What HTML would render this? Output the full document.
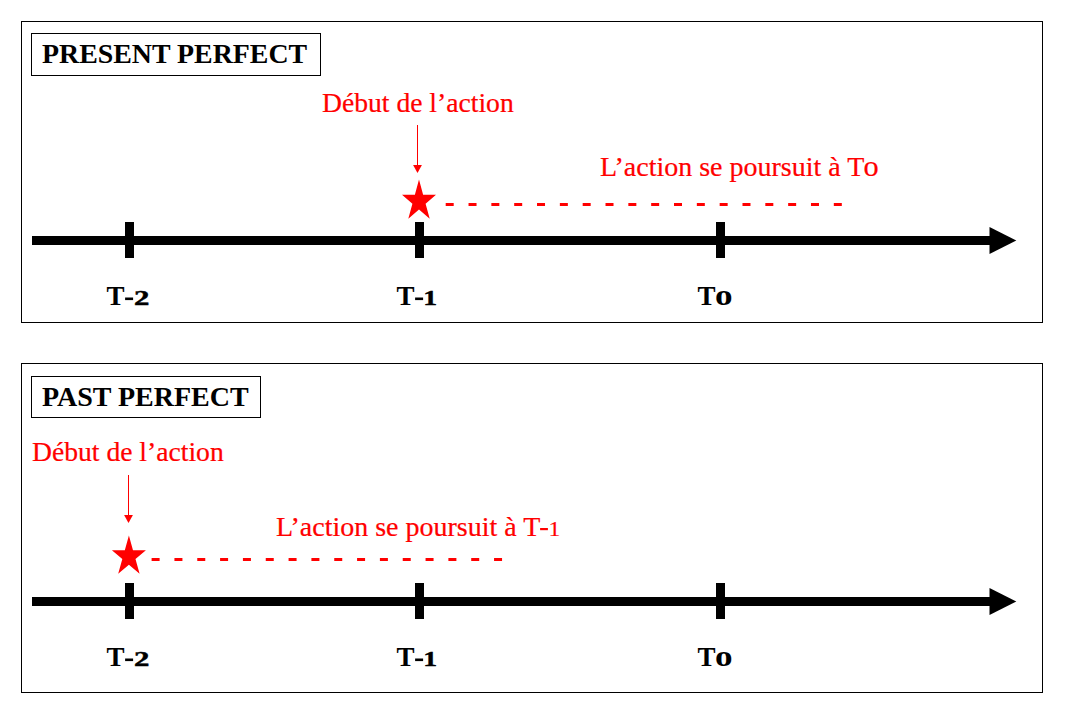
<!DOCTYPE html>
<html><head><meta charset="utf-8"><title>Present perfect vs past perfect</title>
<style>html,body{margin:0;padding:0;background:#fff;width:1071px;height:722px;overflow:hidden}
svg{display:block;font-family:"Liberation Serif",serif}</style></head>
<body><svg width="1071" height="722" viewBox="0 0 1071 722" font-family="'Liberation Serif', serif"><rect x="21.5" y="21.5" width="1021" height="301" fill="none" stroke="#000" stroke-width="1"/>
<rect x="21.5" y="363.5" width="1021" height="329" fill="none" stroke="#000" stroke-width="1"/>
<rect x="31.5" y="33.5" width="289" height="42" fill="none" stroke="#000" stroke-width="1"/>
<rect x="31.5" y="376.5" width="229" height="41" fill="none" stroke="#000" stroke-width="1"/>
<text transform="translate(42.00,63.00) scale(0.9960,1)" font-size="28.00" font-weight="bold" fill="#000">PRESENT PERFECT</text>
<text transform="translate(42.00,406.00) scale(1.0000,1)" font-size="28.00" font-weight="bold" fill="#000">PAST PERFECT</text>
<text transform="translate(322.00,112.00) scale(1.0050,1)" font-size="27.50" fill="#ff0000" stroke="#ff0000" stroke-width="0.22">Début de l’action</text>
<rect x="417" y="125" width="1" height="41" fill="#ff0000"/><polygon fill="#ff0000" points="413.10,165.00 421.90,165.00 417.50,173.00"/>
<polygon fill="#ff0000" points="419.00,179.60 423.12,194.70 436.00,194.70 425.59,203.75 429.70,218.80 419.00,209.49 408.30,218.80 412.41,203.75 402.00,194.70 414.88,194.70"/>
<g fill="#ff0000"><rect x="445.70" y="203.00" width="8.00" height="3"/><rect x="468.53" y="203.00" width="8.00" height="3"/><rect x="491.36" y="203.00" width="8.00" height="3"/><rect x="514.19" y="203.00" width="8.00" height="3"/><rect x="537.02" y="203.00" width="8.00" height="3"/><rect x="559.85" y="203.00" width="8.00" height="3"/><rect x="582.68" y="203.00" width="8.00" height="3"/><rect x="605.51" y="203.00" width="8.00" height="3"/><rect x="628.34" y="203.00" width="8.00" height="3"/><rect x="651.17" y="203.00" width="8.00" height="3"/><rect x="674.00" y="203.00" width="8.00" height="3"/><rect x="696.83" y="203.00" width="8.00" height="3"/><rect x="719.66" y="203.00" width="8.00" height="3"/><rect x="742.49" y="203.00" width="8.00" height="3"/><rect x="765.32" y="203.00" width="8.00" height="3"/><rect x="788.15" y="203.00" width="8.00" height="3"/><rect x="810.98" y="203.00" width="8.00" height="3"/><rect x="833.81" y="203.00" width="8.00" height="3"/></g>
<text transform="translate(600.00,176.00) scale(1.0180,1)" font-size="27.50" fill="#ff0000" stroke="#ff0000" stroke-width="0.22">L’action se poursuit à T</text>
<text transform="translate(863.50,176.00) scale(1.1000,1.0500)" font-size="27.50" fill="#ff0000" stroke="#ff0000" stroke-width="0.22">o</text>
<g fill="#000"><rect x="32" y="236" width="958" height="9"/><polygon points="989.5,227.0 1016.3,240.5 989.5,254.0"/><rect x="125" y="222" width="9" height="36"/><rect x="415" y="222" width="9" height="36"/><rect x="716" y="222" width="9" height="36"/></g>
<text transform="translate(106.60,305.00) scale(1.0000,1.0000)" font-size="27.00" font-weight="bold" fill="#000">T</text><rect x="125.1" y="297.5" width="8" height="2.6" fill="#000"/><text transform="translate(134.10,305.00) scale(1.1400,0.7800)" font-size="27.00" font-weight="bold" fill="#000" stroke="#000" stroke-width="0.60">2</text>
<text transform="translate(396.60,305.00) scale(1.0000,1.0000)" font-size="27.00" font-weight="bold" fill="#000">T</text><rect x="415.1" y="297.5" width="8" height="2.6" fill="#000"/><text transform="translate(423.20,305.00) scale(1.0300,0.7800)" font-size="27.00" font-weight="bold" fill="#000" stroke="#000" stroke-width="0.50">1</text>
<text transform="translate(697.50,305.00) scale(1.0000,1.0000)" font-size="27.00" font-weight="bold" fill="#000">T</text><text transform="translate(715.10,305.00) scale(1.3000,1.0800)" font-size="27.00" font-weight="bold" fill="#000">o</text>
<text transform="translate(32.00,461.00) scale(1.0050,1)" font-size="27.50" fill="#ff0000" stroke="#ff0000" stroke-width="0.22">Début de l’action</text>
<rect x="128" y="475" width="1" height="41" fill="#ff0000"/><polygon fill="#ff0000" points="124.10,515.00 132.90,515.00 128.50,523.00"/>
<polygon fill="#ff0000" points="128.90,535.60 132.99,550.20 145.90,550.20 135.48,559.08 139.60,573.80 128.90,564.68 118.20,573.80 122.32,559.08 111.90,550.20 124.81,550.20"/>
<g fill="#ff0000"><rect x="151.60" y="558.00" width="8.00" height="3"/><rect x="174.43" y="558.00" width="8.00" height="3"/><rect x="197.26" y="558.00" width="8.00" height="3"/><rect x="220.09" y="558.00" width="8.00" height="3"/><rect x="242.92" y="558.00" width="8.00" height="3"/><rect x="265.75" y="558.00" width="8.00" height="3"/><rect x="288.58" y="558.00" width="8.00" height="3"/><rect x="311.41" y="558.00" width="8.00" height="3"/><rect x="334.24" y="558.00" width="8.00" height="3"/><rect x="357.07" y="558.00" width="8.00" height="3"/><rect x="379.90" y="558.00" width="8.00" height="3"/><rect x="402.73" y="558.00" width="8.00" height="3"/><rect x="425.56" y="558.00" width="8.00" height="3"/><rect x="448.39" y="558.00" width="8.00" height="3"/><rect x="471.22" y="558.00" width="8.00" height="3"/><rect x="494.05" y="558.00" width="8.00" height="3"/></g>
<text transform="translate(276.00,536.00) scale(1.0180,1)" font-size="27.50" fill="#ff0000" stroke="#ff0000" stroke-width="0.22">L’action se poursuit à T</text>
<rect x="540.1" y="528" width="7.8" height="2.2" fill="#ff0000"/>
<text transform="translate(548.60,536.00) scale(0.8600,0.7600)" font-size="27.50" fill="#ff0000" stroke="#ff0000" stroke-width="0.22">1</text>
<g fill="#000"><rect x="32" y="597" width="958" height="9"/><polygon points="989.5,588.0 1016.3,601.5 989.5,615.0"/><rect x="125" y="583" width="9" height="36"/><rect x="415" y="583" width="9" height="36"/><rect x="716" y="583" width="9" height="36"/></g>
<text transform="translate(106.60,666.00) scale(1.0000,1.0000)" font-size="27.00" font-weight="bold" fill="#000">T</text><rect x="125.1" y="658.5" width="8" height="2.6" fill="#000"/><text transform="translate(134.10,666.00) scale(1.1400,0.7800)" font-size="27.00" font-weight="bold" fill="#000" stroke="#000" stroke-width="0.60">2</text>
<text transform="translate(396.60,666.00) scale(1.0000,1.0000)" font-size="27.00" font-weight="bold" fill="#000">T</text><rect x="415.1" y="658.5" width="8" height="2.6" fill="#000"/><text transform="translate(423.20,666.00) scale(1.0300,0.7800)" font-size="27.00" font-weight="bold" fill="#000" stroke="#000" stroke-width="0.50">1</text>
<text transform="translate(697.50,666.00) scale(1.0000,1.0000)" font-size="27.00" font-weight="bold" fill="#000">T</text><text transform="translate(715.10,666.00) scale(1.3000,1.0800)" font-size="27.00" font-weight="bold" fill="#000">o</text></svg></body></html>
